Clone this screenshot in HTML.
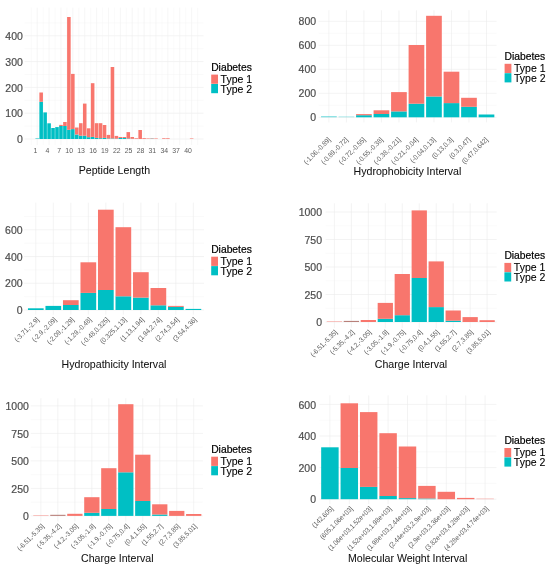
<!DOCTYPE html>
<html><head><meta charset="utf-8"><style>
html,body{margin:0;padding:0;background:#fff;}
svg{display:block;font-family:"Liberation Sans",sans-serif;filter:blur(0.35px);}
</style></head><body>
<svg width="550" height="570" viewBox="0 0 550 570">
<rect width="550" height="570" fill="#fff"/>
<line x1="24.5" y1="139" x2="203.5" y2="139" stroke="#EBEBEB" stroke-width="0.6"/>
<line x1="24.5" y1="126.1" x2="203.5" y2="126.1" stroke="#F3F3F3" stroke-width="0.4"/>
<line x1="24.5" y1="113.2" x2="203.5" y2="113.2" stroke="#EBEBEB" stroke-width="0.6"/>
<line x1="24.5" y1="100.3" x2="203.5" y2="100.3" stroke="#F3F3F3" stroke-width="0.4"/>
<line x1="24.5" y1="87.4" x2="203.5" y2="87.4" stroke="#EBEBEB" stroke-width="0.6"/>
<line x1="24.5" y1="74.5" x2="203.5" y2="74.5" stroke="#F3F3F3" stroke-width="0.4"/>
<line x1="24.5" y1="61.6" x2="203.5" y2="61.6" stroke="#EBEBEB" stroke-width="0.6"/>
<line x1="24.5" y1="48.7" x2="203.5" y2="48.7" stroke="#F3F3F3" stroke-width="0.4"/>
<line x1="24.5" y1="35.8" x2="203.5" y2="35.8" stroke="#EBEBEB" stroke-width="0.6"/>
<line x1="24.5" y1="22.9" x2="203.5" y2="22.9" stroke="#F3F3F3" stroke-width="0.4"/>
<line x1="37.2" y1="7.6" x2="37.2" y2="145" stroke="#F0F0F0" stroke-width="0.6"/>
<line x1="49.08" y1="7.6" x2="49.08" y2="145" stroke="#F0F0F0" stroke-width="0.6"/>
<line x1="60.96" y1="7.6" x2="60.96" y2="145" stroke="#F0F0F0" stroke-width="0.6"/>
<line x1="72.84" y1="7.6" x2="72.84" y2="145" stroke="#F0F0F0" stroke-width="0.6"/>
<line x1="84.72" y1="7.6" x2="84.72" y2="145" stroke="#F0F0F0" stroke-width="0.6"/>
<line x1="96.6" y1="7.6" x2="96.6" y2="145" stroke="#F0F0F0" stroke-width="0.6"/>
<line x1="108.48" y1="7.6" x2="108.48" y2="145" stroke="#F0F0F0" stroke-width="0.6"/>
<line x1="120.36" y1="7.6" x2="120.36" y2="145" stroke="#F0F0F0" stroke-width="0.6"/>
<line x1="132.24" y1="7.6" x2="132.24" y2="145" stroke="#F0F0F0" stroke-width="0.6"/>
<line x1="144.12" y1="7.6" x2="144.12" y2="145" stroke="#F0F0F0" stroke-width="0.6"/>
<line x1="156" y1="7.6" x2="156" y2="145" stroke="#F0F0F0" stroke-width="0.6"/>
<line x1="167.88" y1="7.6" x2="167.88" y2="145" stroke="#F0F0F0" stroke-width="0.6"/>
<line x1="179.76" y1="7.6" x2="179.76" y2="145" stroke="#F0F0F0" stroke-width="0.6"/>
<line x1="191.64" y1="7.6" x2="191.64" y2="145" stroke="#F0F0F0" stroke-width="0.6"/>
<line x1="31.26" y1="7.6" x2="31.26" y2="145" stroke="#F3F3F3" stroke-width="0.4"/>
<line x1="43.14" y1="7.6" x2="43.14" y2="145" stroke="#F3F3F3" stroke-width="0.4"/>
<line x1="55.02" y1="7.6" x2="55.02" y2="145" stroke="#F3F3F3" stroke-width="0.4"/>
<line x1="66.9" y1="7.6" x2="66.9" y2="145" stroke="#F3F3F3" stroke-width="0.4"/>
<line x1="78.78" y1="7.6" x2="78.78" y2="145" stroke="#F3F3F3" stroke-width="0.4"/>
<line x1="90.66" y1="7.6" x2="90.66" y2="145" stroke="#F3F3F3" stroke-width="0.4"/>
<line x1="102.54" y1="7.6" x2="102.54" y2="145" stroke="#F3F3F3" stroke-width="0.4"/>
<line x1="114.42" y1="7.6" x2="114.42" y2="145" stroke="#F3F3F3" stroke-width="0.4"/>
<line x1="126.3" y1="7.6" x2="126.3" y2="145" stroke="#F3F3F3" stroke-width="0.4"/>
<line x1="138.18" y1="7.6" x2="138.18" y2="145" stroke="#F3F3F3" stroke-width="0.4"/>
<line x1="150.06" y1="7.6" x2="150.06" y2="145" stroke="#F3F3F3" stroke-width="0.4"/>
<line x1="161.94" y1="7.6" x2="161.94" y2="145" stroke="#F3F3F3" stroke-width="0.4"/>
<line x1="173.82" y1="7.6" x2="173.82" y2="145" stroke="#F3F3F3" stroke-width="0.4"/>
<line x1="185.7" y1="7.6" x2="185.7" y2="145" stroke="#F3F3F3" stroke-width="0.4"/>
<line x1="197.58" y1="7.6" x2="197.58" y2="145" stroke="#F3F3F3" stroke-width="0.4"/>
<text x="22.9" y="143.13" font-size="10.5" fill="#4D4D4D" stroke="#4D4D4D" stroke-width="0.2" text-anchor="end">0</text>
<text x="22.9" y="117.33" font-size="10.5" fill="#4D4D4D" stroke="#4D4D4D" stroke-width="0.2" text-anchor="end">100</text>
<text x="22.9" y="91.53" font-size="10.5" fill="#4D4D4D" stroke="#4D4D4D" stroke-width="0.2" text-anchor="end">200</text>
<text x="22.9" y="65.73" font-size="10.5" fill="#4D4D4D" stroke="#4D4D4D" stroke-width="0.2" text-anchor="end">300</text>
<text x="22.9" y="39.93" font-size="10.5" fill="#4D4D4D" stroke="#4D4D4D" stroke-width="0.2" text-anchor="end">400</text>
<rect x="35.42" y="138" width="3.56" height="1" fill="#00BFC4" fill-opacity="0.5"/>
<rect x="39.38" y="101.8" width="3.56" height="37.2" fill="#00BFC4"/>
<rect x="39.38" y="92.5" width="3.56" height="9.3" fill="#F8766D"/>
<rect x="43.34" y="112.4" width="3.56" height="26.6" fill="#00BFC4"/>
<rect x="47.3" y="123.3" width="3.56" height="15.7" fill="#00BFC4"/>
<rect x="51.26" y="128" width="3.56" height="11" fill="#00BFC4"/>
<rect x="55.22" y="127.1" width="3.56" height="11.9" fill="#00BFC4"/>
<rect x="59.18" y="126" width="3.56" height="13" fill="#00BFC4"/>
<rect x="59.18" y="124.9" width="3.56" height="1.1" fill="#F8766D"/>
<rect x="63.14" y="126" width="3.56" height="13" fill="#00BFC4"/>
<rect x="63.14" y="122" width="3.56" height="4" fill="#F8766D"/>
<rect x="67.1" y="129.8" width="3.56" height="9.2" fill="#00BFC4"/>
<rect x="67.1" y="17" width="3.56" height="112.8" fill="#F8766D"/>
<rect x="71.06" y="129.1" width="3.56" height="9.9" fill="#00BFC4"/>
<rect x="71.06" y="73.9" width="3.56" height="55.2" fill="#F8766D"/>
<rect x="75.02" y="134.5" width="3.56" height="4.5" fill="#00BFC4"/>
<rect x="75.02" y="127.5" width="3.56" height="7" fill="#F8766D"/>
<rect x="78.98" y="135.7" width="3.56" height="3.3" fill="#00BFC4"/>
<rect x="78.98" y="123.2" width="3.56" height="12.5" fill="#F8766D"/>
<rect x="82.94" y="135.7" width="3.56" height="3.3" fill="#00BFC4"/>
<rect x="82.94" y="103.6" width="3.56" height="32.1" fill="#F8766D"/>
<rect x="86.9" y="137.2" width="3.56" height="1.8" fill="#00BFC4"/>
<rect x="86.9" y="128.3" width="3.56" height="8.9" fill="#F8766D"/>
<rect x="90.86" y="136.9" width="3.56" height="2.1" fill="#00BFC4"/>
<rect x="90.86" y="83.2" width="3.56" height="53.7" fill="#F8766D"/>
<rect x="94.82" y="137.9" width="3.56" height="1.1" fill="#00BFC4"/>
<rect x="94.82" y="123.2" width="3.56" height="14.7" fill="#F8766D"/>
<rect x="98.78" y="138.2" width="3.56" height="0.8" fill="#00BFC4"/>
<rect x="98.78" y="123.2" width="3.56" height="15" fill="#F8766D"/>
<rect x="102.74" y="137.9" width="3.56" height="1.1" fill="#00BFC4"/>
<rect x="102.74" y="125" width="3.56" height="12.9" fill="#F8766D"/>
<rect x="106.7" y="138.5" width="3.56" height="0.5" fill="#00BFC4"/>
<rect x="106.7" y="134.9" width="3.56" height="3.6" fill="#F8766D"/>
<rect x="110.66" y="138.5" width="3.56" height="0.5" fill="#00BFC4"/>
<rect x="110.66" y="67" width="3.56" height="71.5" fill="#F8766D"/>
<rect x="114.62" y="138.7" width="3.56" height="0.3" fill="#00BFC4"/>
<rect x="114.62" y="135.9" width="3.56" height="2.8" fill="#F8766D"/>
<rect x="118.58" y="138" width="3.56" height="1" fill="#00BFC4"/>
<rect x="118.58" y="137" width="3.56" height="1" fill="#F8766D"/>
<rect x="122.54" y="138" width="3.56" height="1" fill="#00BFC4"/>
<rect x="122.54" y="137" width="3.56" height="1" fill="#F8766D"/>
<rect x="126.5" y="138.5" width="3.56" height="0.5" fill="#00BFC4"/>
<rect x="126.5" y="132.1" width="3.56" height="6.4" fill="#F8766D"/>
<rect x="130.46" y="138.8" width="3.56" height="0.2" fill="#00BFC4"/>
<rect x="130.46" y="137" width="3.56" height="1.8" fill="#F8766D"/>
<rect x="134.42" y="138.3" width="3.56" height="0.7" fill="#F8766D"/>
<rect x="138.38" y="130" width="3.56" height="9" fill="#F8766D"/>
<rect x="142.34" y="138.2" width="3.56" height="0.8" fill="#F8766D"/>
<rect x="146.3" y="138.5" width="3.56" height="0.5" fill="#F8766D"/>
<rect x="150.26" y="138.7" width="3.56" height="0.3" fill="#00BFC4"/>
<rect x="150.26" y="138.3" width="3.56" height="0.4" fill="#F8766D"/>
<rect x="154.22" y="138.5" width="3.56" height="0.5" fill="#F8766D"/>
<rect x="162.14" y="138.3" width="3.56" height="0.7" fill="#F8766D"/>
<rect x="166.1" y="138.3" width="3.56" height="0.7" fill="#F8766D"/>
<rect x="189.86" y="138.5" width="3.56" height="0.5" fill="#F8766D"/>
<text x="211.2" y="71" font-size="10.3" fill="#000" stroke="#000" stroke-width="0.2" text-anchor="start">Diabetes</text>
<rect x="211.2" y="74.6" width="6.8" height="9.2" fill="#F8766D"/>
<rect x="211.2" y="84" width="6.8" height="9.2" fill="#00BFC4"/>
<text x="220.6" y="82.8" font-size="10.5" fill="#000" stroke="#000" stroke-width="0.1" text-anchor="start">Type 1</text>
<text x="220.6" y="92.6" font-size="10.5" fill="#000" stroke="#000" stroke-width="0.1" text-anchor="start">Type 2</text>
<text x="114.4" y="174" font-size="10.6" fill="#111" stroke="#111" stroke-width="0.05" text-anchor="middle">Peptide Length</text>
<text x="37.4" y="153.2" font-size="6.9" fill="#5C5C5C" stroke="#5C5C5C" stroke-width="0" text-anchor="end">1</text>
<text x="49.28" y="153.2" font-size="6.9" fill="#5C5C5C" stroke="#5C5C5C" stroke-width="0" text-anchor="end">4</text>
<text x="61.16" y="153.2" font-size="6.9" fill="#5C5C5C" stroke="#5C5C5C" stroke-width="0" text-anchor="end">7</text>
<text x="73.04" y="153.2" font-size="6.9" fill="#5C5C5C" stroke="#5C5C5C" stroke-width="0" text-anchor="end">10</text>
<text x="84.92" y="153.2" font-size="6.9" fill="#5C5C5C" stroke="#5C5C5C" stroke-width="0" text-anchor="end">13</text>
<text x="96.8" y="153.2" font-size="6.9" fill="#5C5C5C" stroke="#5C5C5C" stroke-width="0" text-anchor="end">16</text>
<text x="108.68" y="153.2" font-size="6.9" fill="#5C5C5C" stroke="#5C5C5C" stroke-width="0" text-anchor="end">19</text>
<text x="120.56" y="153.2" font-size="6.9" fill="#5C5C5C" stroke="#5C5C5C" stroke-width="0" text-anchor="end">22</text>
<text x="132.44" y="153.2" font-size="6.9" fill="#5C5C5C" stroke="#5C5C5C" stroke-width="0" text-anchor="end">25</text>
<text x="144.32" y="153.2" font-size="6.9" fill="#5C5C5C" stroke="#5C5C5C" stroke-width="0" text-anchor="end">28</text>
<text x="156.2" y="153.2" font-size="6.9" fill="#5C5C5C" stroke="#5C5C5C" stroke-width="0" text-anchor="end">31</text>
<text x="168.08" y="153.2" font-size="6.9" fill="#5C5C5C" stroke="#5C5C5C" stroke-width="0" text-anchor="end">34</text>
<text x="179.96" y="153.2" font-size="6.9" fill="#5C5C5C" stroke="#5C5C5C" stroke-width="0" text-anchor="end">37</text>
<text x="191.84" y="153.2" font-size="6.9" fill="#5C5C5C" stroke="#5C5C5C" stroke-width="0" text-anchor="end">40</text>
<line x1="318.6" y1="117.3" x2="496.5" y2="117.3" stroke="#EBEBEB" stroke-width="0.6"/>
<line x1="318.6" y1="105.3" x2="496.5" y2="105.3" stroke="#F3F3F3" stroke-width="0.4"/>
<line x1="318.6" y1="93.3" x2="496.5" y2="93.3" stroke="#EBEBEB" stroke-width="0.6"/>
<line x1="318.6" y1="81.3" x2="496.5" y2="81.3" stroke="#F3F3F3" stroke-width="0.4"/>
<line x1="318.6" y1="69.3" x2="496.5" y2="69.3" stroke="#EBEBEB" stroke-width="0.6"/>
<line x1="318.6" y1="57.3" x2="496.5" y2="57.3" stroke="#F3F3F3" stroke-width="0.4"/>
<line x1="318.6" y1="45.3" x2="496.5" y2="45.3" stroke="#EBEBEB" stroke-width="0.6"/>
<line x1="318.6" y1="33.3" x2="496.5" y2="33.3" stroke="#F3F3F3" stroke-width="0.4"/>
<line x1="318.6" y1="21.3" x2="496.5" y2="21.3" stroke="#EBEBEB" stroke-width="0.6"/>
<line x1="328.9" y1="10.3" x2="328.9" y2="122.4" stroke="#EBEBEB" stroke-width="0.6"/>
<line x1="346.41" y1="10.3" x2="346.41" y2="122.4" stroke="#EBEBEB" stroke-width="0.6"/>
<line x1="363.92" y1="10.3" x2="363.92" y2="122.4" stroke="#EBEBEB" stroke-width="0.6"/>
<line x1="381.43" y1="10.3" x2="381.43" y2="122.4" stroke="#EBEBEB" stroke-width="0.6"/>
<line x1="398.94" y1="10.3" x2="398.94" y2="122.4" stroke="#EBEBEB" stroke-width="0.6"/>
<line x1="416.45" y1="10.3" x2="416.45" y2="122.4" stroke="#EBEBEB" stroke-width="0.6"/>
<line x1="433.96" y1="10.3" x2="433.96" y2="122.4" stroke="#EBEBEB" stroke-width="0.6"/>
<line x1="451.47" y1="10.3" x2="451.47" y2="122.4" stroke="#EBEBEB" stroke-width="0.6"/>
<line x1="468.98" y1="10.3" x2="468.98" y2="122.4" stroke="#EBEBEB" stroke-width="0.6"/>
<line x1="486.49" y1="10.3" x2="486.49" y2="122.4" stroke="#EBEBEB" stroke-width="0.6"/>
<text x="316.1" y="121.43" font-size="10.5" fill="#4D4D4D" stroke="#4D4D4D" stroke-width="0.2" text-anchor="end">0</text>
<text x="316.1" y="97.43" font-size="10.5" fill="#4D4D4D" stroke="#4D4D4D" stroke-width="0.2" text-anchor="end">200</text>
<text x="316.1" y="73.43" font-size="10.5" fill="#4D4D4D" stroke="#4D4D4D" stroke-width="0.2" text-anchor="end">400</text>
<text x="316.1" y="49.43" font-size="10.5" fill="#4D4D4D" stroke="#4D4D4D" stroke-width="0.2" text-anchor="end">600</text>
<text x="316.1" y="25.43" font-size="10.5" fill="#4D4D4D" stroke="#4D4D4D" stroke-width="0.2" text-anchor="end">800</text>
<rect x="321.05" y="116.2" width="15.7" height="1.1" fill="#00BFC4" fill-opacity="0.55"/>
<rect x="338.56" y="116.4" width="15.7" height="0.9" fill="#00BFC4" fill-opacity="0.35"/>
<rect x="356.07" y="115.2" width="15.7" height="2.1" fill="#00BFC4"/>
<rect x="356.07" y="114.1" width="15.7" height="1.1" fill="#F8766D"/>
<rect x="373.58" y="114" width="15.7" height="3.3" fill="#00BFC4"/>
<rect x="373.58" y="110.3" width="15.7" height="3.7" fill="#F8766D"/>
<rect x="391.09" y="111.4" width="15.7" height="5.9" fill="#00BFC4"/>
<rect x="391.09" y="92.1" width="15.7" height="19.3" fill="#F8766D"/>
<rect x="408.6" y="103.7" width="15.7" height="13.6" fill="#00BFC4"/>
<rect x="408.6" y="45" width="15.7" height="58.7" fill="#F8766D"/>
<rect x="426.11" y="96.5" width="15.7" height="20.8" fill="#00BFC4"/>
<rect x="426.11" y="15.8" width="15.7" height="80.7" fill="#F8766D"/>
<rect x="443.62" y="103.1" width="15.7" height="14.2" fill="#00BFC4"/>
<rect x="443.62" y="71.7" width="15.7" height="31.4" fill="#F8766D"/>
<rect x="461.13" y="106.8" width="15.7" height="10.5" fill="#00BFC4"/>
<rect x="461.13" y="97.8" width="15.7" height="9" fill="#F8766D"/>
<rect x="478.64" y="114.5" width="15.7" height="2.8" fill="#00BFC4"/>
<text x="504.6" y="60.2" font-size="10.3" fill="#000" stroke="#000" stroke-width="0.2" text-anchor="start">Diabetes</text>
<rect x="504.6" y="63.8" width="6.8" height="9.2" fill="#F8766D"/>
<rect x="504.6" y="73.2" width="6.8" height="9.2" fill="#00BFC4"/>
<text x="514" y="72" font-size="10.5" fill="#000" stroke="#000" stroke-width="0.1" text-anchor="start">Type 1</text>
<text x="514" y="81.8" font-size="10.5" fill="#000" stroke="#000" stroke-width="0.1" text-anchor="start">Type 2</text>
<text x="407.5" y="174.5" font-size="10.6" fill="#111" stroke="#111" stroke-width="0.05" text-anchor="middle">Hydrophobicity Interval</text>
<text x="0" y="5.11" font-size="7.1" fill="#5C5C5C" stroke="#5C5C5C" stroke-width="0" text-anchor="end" transform="translate(327.4 136.5) rotate(-45) scale(0.9 1)">(-1.06,-0.89]</text>
<text x="0" y="5.11" font-size="7.1" fill="#5C5C5C" stroke="#5C5C5C" stroke-width="0" text-anchor="end" transform="translate(344.91 136.5) rotate(-45) scale(0.9 1)">(-0.89,-0.72]</text>
<text x="0" y="5.11" font-size="7.1" fill="#5C5C5C" stroke="#5C5C5C" stroke-width="0" text-anchor="end" transform="translate(362.42 136.5) rotate(-45) scale(0.9 1)">(-0.72,-0.55]</text>
<text x="0" y="5.11" font-size="7.1" fill="#5C5C5C" stroke="#5C5C5C" stroke-width="0" text-anchor="end" transform="translate(379.93 136.5) rotate(-45) scale(0.9 1)">(-0.55,-0.38]</text>
<text x="0" y="5.11" font-size="7.1" fill="#5C5C5C" stroke="#5C5C5C" stroke-width="0" text-anchor="end" transform="translate(397.44 136.5) rotate(-45) scale(0.9 1)">(-0.38,-0.21]</text>
<text x="0" y="5.11" font-size="7.1" fill="#5C5C5C" stroke="#5C5C5C" stroke-width="0" text-anchor="end" transform="translate(414.95 136.5) rotate(-45) scale(0.9 1)">(-0.21,-0.04]</text>
<text x="0" y="5.11" font-size="7.1" fill="#5C5C5C" stroke="#5C5C5C" stroke-width="0" text-anchor="end" transform="translate(432.46 136.5) rotate(-45) scale(0.9 1)">(-0.04,0.13]</text>
<text x="0" y="5.11" font-size="7.1" fill="#5C5C5C" stroke="#5C5C5C" stroke-width="0" text-anchor="end" transform="translate(449.97 136.5) rotate(-45) scale(0.9 1)">(0.13,0.3]</text>
<text x="0" y="5.11" font-size="7.1" fill="#5C5C5C" stroke="#5C5C5C" stroke-width="0" text-anchor="end" transform="translate(467.48 136.5) rotate(-45) scale(0.9 1)">(0.3,0.47]</text>
<text x="0" y="5.11" font-size="7.1" fill="#5C5C5C" stroke="#5C5C5C" stroke-width="0" text-anchor="end" transform="translate(484.99 136.5) rotate(-45) scale(0.9 1)">(0.47,0.642]</text>
<line x1="24.1" y1="310" x2="204" y2="310" stroke="#EBEBEB" stroke-width="0.6"/>
<line x1="24.1" y1="296.63" x2="204" y2="296.63" stroke="#F3F3F3" stroke-width="0.4"/>
<line x1="24.1" y1="283.27" x2="204" y2="283.27" stroke="#EBEBEB" stroke-width="0.6"/>
<line x1="24.1" y1="269.9" x2="204" y2="269.9" stroke="#F3F3F3" stroke-width="0.4"/>
<line x1="24.1" y1="256.54" x2="204" y2="256.54" stroke="#EBEBEB" stroke-width="0.6"/>
<line x1="24.1" y1="243.18" x2="204" y2="243.18" stroke="#F3F3F3" stroke-width="0.4"/>
<line x1="24.1" y1="229.81" x2="204" y2="229.81" stroke="#EBEBEB" stroke-width="0.6"/>
<line x1="24.1" y1="216.44" x2="204" y2="216.44" stroke="#F3F3F3" stroke-width="0.4"/>
<line x1="35.8" y1="202.7" x2="35.8" y2="314.6" stroke="#EBEBEB" stroke-width="0.6"/>
<line x1="53.31" y1="202.7" x2="53.31" y2="314.6" stroke="#EBEBEB" stroke-width="0.6"/>
<line x1="70.82" y1="202.7" x2="70.82" y2="314.6" stroke="#EBEBEB" stroke-width="0.6"/>
<line x1="88.33" y1="202.7" x2="88.33" y2="314.6" stroke="#EBEBEB" stroke-width="0.6"/>
<line x1="105.84" y1="202.7" x2="105.84" y2="314.6" stroke="#EBEBEB" stroke-width="0.6"/>
<line x1="123.35" y1="202.7" x2="123.35" y2="314.6" stroke="#EBEBEB" stroke-width="0.6"/>
<line x1="140.86" y1="202.7" x2="140.86" y2="314.6" stroke="#EBEBEB" stroke-width="0.6"/>
<line x1="158.37" y1="202.7" x2="158.37" y2="314.6" stroke="#EBEBEB" stroke-width="0.6"/>
<line x1="175.88" y1="202.7" x2="175.88" y2="314.6" stroke="#EBEBEB" stroke-width="0.6"/>
<line x1="193.39" y1="202.7" x2="193.39" y2="314.6" stroke="#EBEBEB" stroke-width="0.6"/>
<text x="22.6" y="314.13" font-size="10.5" fill="#4D4D4D" stroke="#4D4D4D" stroke-width="0.2" text-anchor="end">0</text>
<text x="22.6" y="287.4" font-size="10.5" fill="#4D4D4D" stroke="#4D4D4D" stroke-width="0.2" text-anchor="end">200</text>
<text x="22.6" y="260.67" font-size="10.5" fill="#4D4D4D" stroke="#4D4D4D" stroke-width="0.2" text-anchor="end">400</text>
<text x="22.6" y="233.94" font-size="10.5" fill="#4D4D4D" stroke="#4D4D4D" stroke-width="0.2" text-anchor="end">600</text>
<rect x="27.95" y="308.3" width="15.7" height="1.7" fill="#00BFC4"/>
<rect x="45.46" y="305.9" width="15.7" height="4.1" fill="#00BFC4"/>
<rect x="62.97" y="305" width="15.7" height="5" fill="#00BFC4"/>
<rect x="62.97" y="300.2" width="15.7" height="4.8" fill="#F8766D"/>
<rect x="80.48" y="292.9" width="15.7" height="17.1" fill="#00BFC4"/>
<rect x="80.48" y="262.3" width="15.7" height="30.6" fill="#F8766D"/>
<rect x="97.99" y="290" width="15.7" height="20" fill="#00BFC4"/>
<rect x="97.99" y="209.7" width="15.7" height="80.3" fill="#F8766D"/>
<rect x="115.5" y="296.3" width="15.7" height="13.7" fill="#00BFC4"/>
<rect x="115.5" y="227.2" width="15.7" height="69.1" fill="#F8766D"/>
<rect x="133.01" y="297.6" width="15.7" height="12.4" fill="#00BFC4"/>
<rect x="133.01" y="272.2" width="15.7" height="25.4" fill="#F8766D"/>
<rect x="150.52" y="305.3" width="15.7" height="4.7" fill="#00BFC4"/>
<rect x="150.52" y="288" width="15.7" height="17.3" fill="#F8766D"/>
<rect x="168.03" y="306.9" width="15.7" height="3.1" fill="#00BFC4"/>
<rect x="168.03" y="305.9" width="15.7" height="1" fill="#F8766D"/>
<rect x="185.54" y="308.9" width="15.7" height="1.1" fill="#00BFC4"/>
<text x="211.2" y="253.1" font-size="10.3" fill="#000" stroke="#000" stroke-width="0.2" text-anchor="start">Diabetes</text>
<rect x="211.2" y="256.7" width="6.8" height="9.2" fill="#F8766D"/>
<rect x="211.2" y="266.1" width="6.8" height="9.2" fill="#00BFC4"/>
<text x="220.6" y="264.9" font-size="10.5" fill="#000" stroke="#000" stroke-width="0.1" text-anchor="start">Type 1</text>
<text x="220.6" y="274.7" font-size="10.5" fill="#000" stroke="#000" stroke-width="0.1" text-anchor="start">Type 2</text>
<text x="114" y="367.5" font-size="10.6" fill="#111" stroke="#111" stroke-width="0.05" text-anchor="middle">Hydropathicity Interval</text>
<text x="0" y="5.11" font-size="7.1" fill="#5C5C5C" stroke="#5C5C5C" stroke-width="0" text-anchor="end" transform="translate(35.8 316.5) rotate(-45) scale(0.9 1)">(-3.71,-2.9]</text>
<text x="0" y="5.11" font-size="7.1" fill="#5C5C5C" stroke="#5C5C5C" stroke-width="0" text-anchor="end" transform="translate(53.31 316.5) rotate(-45) scale(0.9 1)">(-2.9,-2.09]</text>
<text x="0" y="5.11" font-size="7.1" fill="#5C5C5C" stroke="#5C5C5C" stroke-width="0" text-anchor="end" transform="translate(70.82 316.5) rotate(-45) scale(0.9 1)">(-2.09,-1.29]</text>
<text x="0" y="5.11" font-size="7.1" fill="#5C5C5C" stroke="#5C5C5C" stroke-width="0" text-anchor="end" transform="translate(88.33 316.5) rotate(-45) scale(0.9 1)">(-1.29,-0.48]</text>
<text x="0" y="5.11" font-size="7.1" fill="#5C5C5C" stroke="#5C5C5C" stroke-width="0" text-anchor="end" transform="translate(105.84 316.5) rotate(-45) scale(0.9 1)">(-0.48,0.325]</text>
<text x="0" y="5.11" font-size="7.1" fill="#5C5C5C" stroke="#5C5C5C" stroke-width="0" text-anchor="end" transform="translate(123.35 316.5) rotate(-45) scale(0.9 1)">(0.325,1.13]</text>
<text x="0" y="5.11" font-size="7.1" fill="#5C5C5C" stroke="#5C5C5C" stroke-width="0" text-anchor="end" transform="translate(140.86 316.5) rotate(-45) scale(0.9 1)">(1.13,1.94]</text>
<text x="0" y="5.11" font-size="7.1" fill="#5C5C5C" stroke="#5C5C5C" stroke-width="0" text-anchor="end" transform="translate(158.37 316.5) rotate(-45) scale(0.9 1)">(1.94,2.74]</text>
<text x="0" y="5.11" font-size="7.1" fill="#5C5C5C" stroke="#5C5C5C" stroke-width="0" text-anchor="end" transform="translate(175.88 316.5) rotate(-45) scale(0.9 1)">(2.74,3.54]</text>
<text x="0" y="5.11" font-size="7.1" fill="#5C5C5C" stroke="#5C5C5C" stroke-width="0" text-anchor="end" transform="translate(193.39 316.5) rotate(-45) scale(0.9 1)">(3.54,4.36]</text>
<line x1="325.6" y1="322" x2="496.7" y2="322" stroke="#EBEBEB" stroke-width="0.6"/>
<line x1="325.6" y1="308.25" x2="496.7" y2="308.25" stroke="#F3F3F3" stroke-width="0.4"/>
<line x1="325.6" y1="294.5" x2="496.7" y2="294.5" stroke="#EBEBEB" stroke-width="0.6"/>
<line x1="325.6" y1="280.75" x2="496.7" y2="280.75" stroke="#F3F3F3" stroke-width="0.4"/>
<line x1="325.6" y1="267" x2="496.7" y2="267" stroke="#EBEBEB" stroke-width="0.6"/>
<line x1="325.6" y1="253.25" x2="496.7" y2="253.25" stroke="#F3F3F3" stroke-width="0.4"/>
<line x1="325.6" y1="239.5" x2="496.7" y2="239.5" stroke="#EBEBEB" stroke-width="0.6"/>
<line x1="325.6" y1="225.75" x2="496.7" y2="225.75" stroke="#F3F3F3" stroke-width="0.4"/>
<line x1="325.6" y1="212" x2="496.7" y2="212" stroke="#EBEBEB" stroke-width="0.6"/>
<line x1="334.4" y1="203.3" x2="334.4" y2="327.9" stroke="#EBEBEB" stroke-width="0.6"/>
<line x1="351.37" y1="203.3" x2="351.37" y2="327.9" stroke="#EBEBEB" stroke-width="0.6"/>
<line x1="368.34" y1="203.3" x2="368.34" y2="327.9" stroke="#EBEBEB" stroke-width="0.6"/>
<line x1="385.31" y1="203.3" x2="385.31" y2="327.9" stroke="#EBEBEB" stroke-width="0.6"/>
<line x1="402.28" y1="203.3" x2="402.28" y2="327.9" stroke="#EBEBEB" stroke-width="0.6"/>
<line x1="419.25" y1="203.3" x2="419.25" y2="327.9" stroke="#EBEBEB" stroke-width="0.6"/>
<line x1="436.22" y1="203.3" x2="436.22" y2="327.9" stroke="#EBEBEB" stroke-width="0.6"/>
<line x1="453.19" y1="203.3" x2="453.19" y2="327.9" stroke="#EBEBEB" stroke-width="0.6"/>
<line x1="470.16" y1="203.3" x2="470.16" y2="327.9" stroke="#EBEBEB" stroke-width="0.6"/>
<line x1="487.13" y1="203.3" x2="487.13" y2="327.9" stroke="#EBEBEB" stroke-width="0.6"/>
<text x="322" y="326.13" font-size="10.5" fill="#4D4D4D" stroke="#4D4D4D" stroke-width="0.2" text-anchor="end">0</text>
<text x="322" y="298.63" font-size="10.5" fill="#4D4D4D" stroke="#4D4D4D" stroke-width="0.2" text-anchor="end">250</text>
<text x="322" y="271.13" font-size="10.5" fill="#4D4D4D" stroke="#4D4D4D" stroke-width="0.2" text-anchor="end">500</text>
<text x="322" y="243.63" font-size="10.5" fill="#4D4D4D" stroke="#4D4D4D" stroke-width="0.2" text-anchor="end">750</text>
<text x="322" y="216.13" font-size="10.5" fill="#4D4D4D" stroke="#4D4D4D" stroke-width="0.2" text-anchor="end">1000</text>
<rect x="326.76" y="321.1" width="15.27" height="0.9" fill="#F8766D" fill-opacity="0.45"/>
<rect x="343.74" y="320.9" width="15.27" height="1.1" fill="#B8807A" fill-opacity="1"/>
<rect x="360.7" y="320" width="15.27" height="2" fill="#F8766D"/>
<rect x="377.67" y="318.8" width="15.27" height="3.2" fill="#00BFC4"/>
<rect x="377.67" y="302.9" width="15.27" height="15.9" fill="#F8766D"/>
<rect x="394.64" y="315.2" width="15.27" height="6.8" fill="#00BFC4"/>
<rect x="394.64" y="274" width="15.27" height="41.2" fill="#F8766D"/>
<rect x="411.62" y="278" width="15.27" height="44" fill="#00BFC4"/>
<rect x="411.62" y="210.4" width="15.27" height="67.6" fill="#F8766D"/>
<rect x="428.58" y="307.1" width="15.27" height="14.9" fill="#00BFC4"/>
<rect x="428.58" y="261.4" width="15.27" height="45.7" fill="#F8766D"/>
<rect x="445.55" y="320.7" width="15.27" height="1.3" fill="#00BFC4"/>
<rect x="445.55" y="310.5" width="15.27" height="10.2" fill="#F8766D"/>
<rect x="462.52" y="317.1" width="15.27" height="4.9" fill="#F8766D"/>
<rect x="479.5" y="320.2" width="15.27" height="1.8" fill="#F8766D"/>
<text x="504.4" y="259.3" font-size="10.3" fill="#000" stroke="#000" stroke-width="0.2" text-anchor="start">Diabetes</text>
<rect x="504.4" y="262.9" width="6.8" height="9.2" fill="#F8766D"/>
<rect x="504.4" y="272.3" width="6.8" height="9.2" fill="#00BFC4"/>
<text x="513.8" y="271.1" font-size="10.5" fill="#000" stroke="#000" stroke-width="0.1" text-anchor="start">Type 1</text>
<text x="513.8" y="280.9" font-size="10.5" fill="#000" stroke="#000" stroke-width="0.1" text-anchor="start">Type 2</text>
<text x="411" y="367.9" font-size="10.6" fill="#111" stroke="#111" stroke-width="0.05" text-anchor="middle">Charge Interval</text>
<text x="0" y="5.11" font-size="7.1" fill="#5C5C5C" stroke="#5C5C5C" stroke-width="0" text-anchor="end" transform="translate(334.2 329) rotate(-45) scale(0.9 1)">(-6.51,-5.35]</text>
<text x="0" y="5.11" font-size="7.1" fill="#5C5C5C" stroke="#5C5C5C" stroke-width="0" text-anchor="end" transform="translate(351.17 329) rotate(-45) scale(0.9 1)">(-5.35,-4.2]</text>
<text x="0" y="5.11" font-size="7.1" fill="#5C5C5C" stroke="#5C5C5C" stroke-width="0" text-anchor="end" transform="translate(368.14 329) rotate(-45) scale(0.9 1)">(-4.2,-3.05]</text>
<text x="0" y="5.11" font-size="7.1" fill="#5C5C5C" stroke="#5C5C5C" stroke-width="0" text-anchor="end" transform="translate(385.11 329) rotate(-45) scale(0.9 1)">(-3.05,-1.9]</text>
<text x="0" y="5.11" font-size="7.1" fill="#5C5C5C" stroke="#5C5C5C" stroke-width="0" text-anchor="end" transform="translate(402.08 329) rotate(-45) scale(0.9 1)">(-1.9,-0.75]</text>
<text x="0" y="5.11" font-size="7.1" fill="#5C5C5C" stroke="#5C5C5C" stroke-width="0" text-anchor="end" transform="translate(419.05 329) rotate(-45) scale(0.9 1)">(-0.75,0.4]</text>
<text x="0" y="5.11" font-size="7.1" fill="#5C5C5C" stroke="#5C5C5C" stroke-width="0" text-anchor="end" transform="translate(436.02 329) rotate(-45) scale(0.9 1)">(0.4,1.55]</text>
<text x="0" y="5.11" font-size="7.1" fill="#5C5C5C" stroke="#5C5C5C" stroke-width="0" text-anchor="end" transform="translate(452.99 329) rotate(-45) scale(0.9 1)">(1.55,2.7]</text>
<text x="0" y="5.11" font-size="7.1" fill="#5C5C5C" stroke="#5C5C5C" stroke-width="0" text-anchor="end" transform="translate(469.96 329) rotate(-45) scale(0.9 1)">(2.7,3.85]</text>
<text x="0" y="5.11" font-size="7.1" fill="#5C5C5C" stroke="#5C5C5C" stroke-width="0" text-anchor="end" transform="translate(486.93 329) rotate(-45) scale(0.9 1)">(3.85,5.01]</text>
<line x1="30.8" y1="515.9" x2="202.9" y2="515.9" stroke="#EBEBEB" stroke-width="0.6"/>
<line x1="30.8" y1="502.15" x2="202.9" y2="502.15" stroke="#F3F3F3" stroke-width="0.4"/>
<line x1="30.8" y1="488.4" x2="202.9" y2="488.4" stroke="#EBEBEB" stroke-width="0.6"/>
<line x1="30.8" y1="474.65" x2="202.9" y2="474.65" stroke="#F3F3F3" stroke-width="0.4"/>
<line x1="30.8" y1="460.9" x2="202.9" y2="460.9" stroke="#EBEBEB" stroke-width="0.6"/>
<line x1="30.8" y1="447.15" x2="202.9" y2="447.15" stroke="#F3F3F3" stroke-width="0.4"/>
<line x1="30.8" y1="433.4" x2="202.9" y2="433.4" stroke="#EBEBEB" stroke-width="0.6"/>
<line x1="30.8" y1="419.65" x2="202.9" y2="419.65" stroke="#F3F3F3" stroke-width="0.4"/>
<line x1="30.8" y1="405.9" x2="202.9" y2="405.9" stroke="#EBEBEB" stroke-width="0.6"/>
<line x1="40.9" y1="398.3" x2="40.9" y2="521.5" stroke="#EBEBEB" stroke-width="0.6"/>
<line x1="57.88" y1="398.3" x2="57.88" y2="521.5" stroke="#EBEBEB" stroke-width="0.6"/>
<line x1="74.86" y1="398.3" x2="74.86" y2="521.5" stroke="#EBEBEB" stroke-width="0.6"/>
<line x1="91.84" y1="398.3" x2="91.84" y2="521.5" stroke="#EBEBEB" stroke-width="0.6"/>
<line x1="108.82" y1="398.3" x2="108.82" y2="521.5" stroke="#EBEBEB" stroke-width="0.6"/>
<line x1="125.8" y1="398.3" x2="125.8" y2="521.5" stroke="#EBEBEB" stroke-width="0.6"/>
<line x1="142.78" y1="398.3" x2="142.78" y2="521.5" stroke="#EBEBEB" stroke-width="0.6"/>
<line x1="159.76" y1="398.3" x2="159.76" y2="521.5" stroke="#EBEBEB" stroke-width="0.6"/>
<line x1="176.74" y1="398.3" x2="176.74" y2="521.5" stroke="#EBEBEB" stroke-width="0.6"/>
<line x1="193.72" y1="398.3" x2="193.72" y2="521.5" stroke="#EBEBEB" stroke-width="0.6"/>
<text x="28.9" y="520.03" font-size="10.5" fill="#4D4D4D" stroke="#4D4D4D" stroke-width="0.2" text-anchor="end">0</text>
<text x="28.9" y="492.53" font-size="10.5" fill="#4D4D4D" stroke="#4D4D4D" stroke-width="0.2" text-anchor="end">250</text>
<text x="28.9" y="465.03" font-size="10.5" fill="#4D4D4D" stroke="#4D4D4D" stroke-width="0.2" text-anchor="end">500</text>
<text x="28.9" y="437.53" font-size="10.5" fill="#4D4D4D" stroke="#4D4D4D" stroke-width="0.2" text-anchor="end">750</text>
<text x="28.9" y="410.03" font-size="10.5" fill="#4D4D4D" stroke="#4D4D4D" stroke-width="0.2" text-anchor="end">1000</text>
<rect x="33.26" y="515" width="15.28" height="0.9" fill="#F8766D" fill-opacity="0.45"/>
<rect x="50.24" y="514.8" width="15.28" height="1.1" fill="#B8807A" fill-opacity="1"/>
<rect x="67.22" y="513.8" width="15.28" height="2.1" fill="#F8766D"/>
<rect x="84.2" y="512.8" width="15.28" height="3.1" fill="#00BFC4"/>
<rect x="84.2" y="497.2" width="15.28" height="15.6" fill="#F8766D"/>
<rect x="101.18" y="509" width="15.28" height="6.9" fill="#00BFC4"/>
<rect x="101.18" y="468.2" width="15.28" height="40.8" fill="#F8766D"/>
<rect x="118.16" y="472.3" width="15.28" height="43.6" fill="#00BFC4"/>
<rect x="118.16" y="404.2" width="15.28" height="68.1" fill="#F8766D"/>
<rect x="135.14" y="501" width="15.28" height="14.9" fill="#00BFC4"/>
<rect x="135.14" y="454.7" width="15.28" height="46.3" fill="#F8766D"/>
<rect x="152.12" y="514.5" width="15.28" height="1.4" fill="#00BFC4"/>
<rect x="152.12" y="504.3" width="15.28" height="10.2" fill="#F8766D"/>
<rect x="169.1" y="510.9" width="15.28" height="5" fill="#F8766D"/>
<rect x="186.08" y="514" width="15.28" height="1.9" fill="#F8766D"/>
<text x="211.2" y="453.1" font-size="10.3" fill="#000" stroke="#000" stroke-width="0.2" text-anchor="start">Diabetes</text>
<rect x="211.2" y="456.7" width="6.8" height="9.2" fill="#F8766D"/>
<rect x="211.2" y="466.1" width="6.8" height="9.2" fill="#00BFC4"/>
<text x="220.6" y="464.9" font-size="10.5" fill="#000" stroke="#000" stroke-width="0.1" text-anchor="start">Type 1</text>
<text x="220.6" y="474.7" font-size="10.5" fill="#000" stroke="#000" stroke-width="0.1" text-anchor="start">Type 2</text>
<text x="117.3" y="561.5" font-size="10.6" fill="#111" stroke="#111" stroke-width="0.05" text-anchor="middle">Charge Interval</text>
<text x="0" y="5.11" font-size="7.1" fill="#5C5C5C" stroke="#5C5C5C" stroke-width="0" text-anchor="end" transform="translate(40.9 523) rotate(-45) scale(0.9 1)">(-6.51,-5.35]</text>
<text x="0" y="5.11" font-size="7.1" fill="#5C5C5C" stroke="#5C5C5C" stroke-width="0" text-anchor="end" transform="translate(57.88 523) rotate(-45) scale(0.9 1)">(-5.35,-4.2]</text>
<text x="0" y="5.11" font-size="7.1" fill="#5C5C5C" stroke="#5C5C5C" stroke-width="0" text-anchor="end" transform="translate(74.86 523) rotate(-45) scale(0.9 1)">(-4.2,-3.05]</text>
<text x="0" y="5.11" font-size="7.1" fill="#5C5C5C" stroke="#5C5C5C" stroke-width="0" text-anchor="end" transform="translate(91.84 523) rotate(-45) scale(0.9 1)">(-3.05,-1.9]</text>
<text x="0" y="5.11" font-size="7.1" fill="#5C5C5C" stroke="#5C5C5C" stroke-width="0" text-anchor="end" transform="translate(108.82 523) rotate(-45) scale(0.9 1)">(-1.9,-0.75]</text>
<text x="0" y="5.11" font-size="7.1" fill="#5C5C5C" stroke="#5C5C5C" stroke-width="0" text-anchor="end" transform="translate(125.8 523) rotate(-45) scale(0.9 1)">(-0.75,0.4]</text>
<text x="0" y="5.11" font-size="7.1" fill="#5C5C5C" stroke="#5C5C5C" stroke-width="0" text-anchor="end" transform="translate(142.78 523) rotate(-45) scale(0.9 1)">(0.4,1.55]</text>
<text x="0" y="5.11" font-size="7.1" fill="#5C5C5C" stroke="#5C5C5C" stroke-width="0" text-anchor="end" transform="translate(159.76 523) rotate(-45) scale(0.9 1)">(1.55,2.7]</text>
<text x="0" y="5.11" font-size="7.1" fill="#5C5C5C" stroke="#5C5C5C" stroke-width="0" text-anchor="end" transform="translate(176.74 523) rotate(-45) scale(0.9 1)">(2.7,3.85]</text>
<text x="0" y="5.11" font-size="7.1" fill="#5C5C5C" stroke="#5C5C5C" stroke-width="0" text-anchor="end" transform="translate(193.72 523) rotate(-45) scale(0.9 1)">(3.85,5.01]</text>
<line x1="319.5" y1="499.2" x2="496.4" y2="499.2" stroke="#EBEBEB" stroke-width="0.6"/>
<line x1="319.5" y1="483.4" x2="496.4" y2="483.4" stroke="#F3F3F3" stroke-width="0.4"/>
<line x1="319.5" y1="467.6" x2="496.4" y2="467.6" stroke="#EBEBEB" stroke-width="0.6"/>
<line x1="319.5" y1="451.8" x2="496.4" y2="451.8" stroke="#F3F3F3" stroke-width="0.4"/>
<line x1="319.5" y1="436" x2="496.4" y2="436" stroke="#EBEBEB" stroke-width="0.6"/>
<line x1="319.5" y1="420.2" x2="496.4" y2="420.2" stroke="#F3F3F3" stroke-width="0.4"/>
<line x1="319.5" y1="404.4" x2="496.4" y2="404.4" stroke="#EBEBEB" stroke-width="0.6"/>
<line x1="329.9" y1="395.4" x2="329.9" y2="504" stroke="#EBEBEB" stroke-width="0.6"/>
<line x1="349.3" y1="395.4" x2="349.3" y2="504" stroke="#EBEBEB" stroke-width="0.6"/>
<line x1="368.7" y1="395.4" x2="368.7" y2="504" stroke="#EBEBEB" stroke-width="0.6"/>
<line x1="388.1" y1="395.4" x2="388.1" y2="504" stroke="#EBEBEB" stroke-width="0.6"/>
<line x1="407.5" y1="395.4" x2="407.5" y2="504" stroke="#EBEBEB" stroke-width="0.6"/>
<line x1="426.9" y1="395.4" x2="426.9" y2="504" stroke="#EBEBEB" stroke-width="0.6"/>
<line x1="446.3" y1="395.4" x2="446.3" y2="504" stroke="#EBEBEB" stroke-width="0.6"/>
<line x1="465.7" y1="395.4" x2="465.7" y2="504" stroke="#EBEBEB" stroke-width="0.6"/>
<line x1="485.1" y1="395.4" x2="485.1" y2="504" stroke="#EBEBEB" stroke-width="0.6"/>
<text x="316" y="503.33" font-size="10.5" fill="#4D4D4D" stroke="#4D4D4D" stroke-width="0.2" text-anchor="end">0</text>
<text x="316" y="471.73" font-size="10.5" fill="#4D4D4D" stroke="#4D4D4D" stroke-width="0.2" text-anchor="end">200</text>
<text x="316" y="440.13" font-size="10.5" fill="#4D4D4D" stroke="#4D4D4D" stroke-width="0.2" text-anchor="end">400</text>
<text x="316" y="408.53" font-size="10.5" fill="#4D4D4D" stroke="#4D4D4D" stroke-width="0.2" text-anchor="end">600</text>
<rect x="321.17" y="447.3" width="17.46" height="51.9" fill="#00BFC4"/>
<rect x="340.57" y="468" width="17.46" height="31.2" fill="#00BFC4"/>
<rect x="340.57" y="403.3" width="17.46" height="64.7" fill="#F8766D"/>
<rect x="359.97" y="486.9" width="17.46" height="12.3" fill="#00BFC4"/>
<rect x="359.97" y="412.1" width="17.46" height="74.8" fill="#F8766D"/>
<rect x="379.37" y="496" width="17.46" height="3.2" fill="#00BFC4"/>
<rect x="379.37" y="433.2" width="17.46" height="62.8" fill="#F8766D"/>
<rect x="398.77" y="498.1" width="17.46" height="1.1" fill="#00BFC4"/>
<rect x="398.77" y="446.5" width="17.46" height="51.6" fill="#F8766D"/>
<rect x="418.17" y="498.5" width="17.46" height="0.7" fill="#00BFC4"/>
<rect x="418.17" y="485.9" width="17.46" height="12.6" fill="#F8766D"/>
<rect x="437.57" y="491.8" width="17.46" height="7.4" fill="#F8766D"/>
<rect x="456.97" y="497.9" width="17.46" height="1.3" fill="#F8766D"/>
<rect x="476.37" y="498.5" width="17.46" height="0.7" fill="#F8766D" fill-opacity="0.5"/>
<text x="504.4" y="444.4" font-size="10.3" fill="#000" stroke="#000" stroke-width="0.2" text-anchor="start">Diabetes</text>
<rect x="504.4" y="448" width="6.8" height="9.2" fill="#F8766D"/>
<rect x="504.4" y="457.4" width="6.8" height="9.2" fill="#00BFC4"/>
<text x="513.8" y="456.2" font-size="10.5" fill="#000" stroke="#000" stroke-width="0.1" text-anchor="start">Type 1</text>
<text x="513.8" y="466" font-size="10.5" fill="#000" stroke="#000" stroke-width="0.1" text-anchor="start">Type 2</text>
<text x="407.7" y="561.5" font-size="10.6" fill="#111" stroke="#111" stroke-width="0.05" text-anchor="middle">Molecular Weight Interval</text>
<text x="0" y="5.11" font-size="7.1" fill="#5C5C5C" stroke="#5C5C5C" stroke-width="0" text-anchor="end" transform="translate(330.2 505.5) rotate(-45) scale(0.9 1)">(142,605]</text>
<text x="0" y="5.11" font-size="7.1" fill="#5C5C5C" stroke="#5C5C5C" stroke-width="0" text-anchor="end" transform="translate(349.6 505.5) rotate(-45) scale(0.9 1)">(605,1.06e+03]</text>
<text x="0" y="5.11" font-size="7.1" fill="#5C5C5C" stroke="#5C5C5C" stroke-width="0" text-anchor="end" transform="translate(369 505.5) rotate(-45) scale(0.9 1)">(1.06e+03,1.52e+03]</text>
<text x="0" y="5.11" font-size="7.1" fill="#5C5C5C" stroke="#5C5C5C" stroke-width="0" text-anchor="end" transform="translate(388.4 505.5) rotate(-45) scale(0.9 1)">(1.52e+03,1.98e+03]</text>
<text x="0" y="5.11" font-size="7.1" fill="#5C5C5C" stroke="#5C5C5C" stroke-width="0" text-anchor="end" transform="translate(407.8 505.5) rotate(-45) scale(0.9 1)">(1.98e+03,2.44e+03]</text>
<text x="0" y="5.11" font-size="7.1" fill="#5C5C5C" stroke="#5C5C5C" stroke-width="0" text-anchor="end" transform="translate(427.2 505.5) rotate(-45) scale(0.9 1)">(2.44e+03,2.9e+03]</text>
<text x="0" y="5.11" font-size="7.1" fill="#5C5C5C" stroke="#5C5C5C" stroke-width="0" text-anchor="end" transform="translate(446.6 505.5) rotate(-45) scale(0.9 1)">(2.9e+03,3.36e+03]</text>
<text x="0" y="5.11" font-size="7.1" fill="#5C5C5C" stroke="#5C5C5C" stroke-width="0" text-anchor="end" transform="translate(466 505.5) rotate(-45) scale(0.9 1)">(3.82e+03,4.28e+03]</text>
<text x="0" y="5.11" font-size="7.1" fill="#5C5C5C" stroke="#5C5C5C" stroke-width="0" text-anchor="end" transform="translate(485.4 505.5) rotate(-45) scale(0.9 1)">(4.28e+03,4.74e+03]</text>
</svg>
</body></html>
